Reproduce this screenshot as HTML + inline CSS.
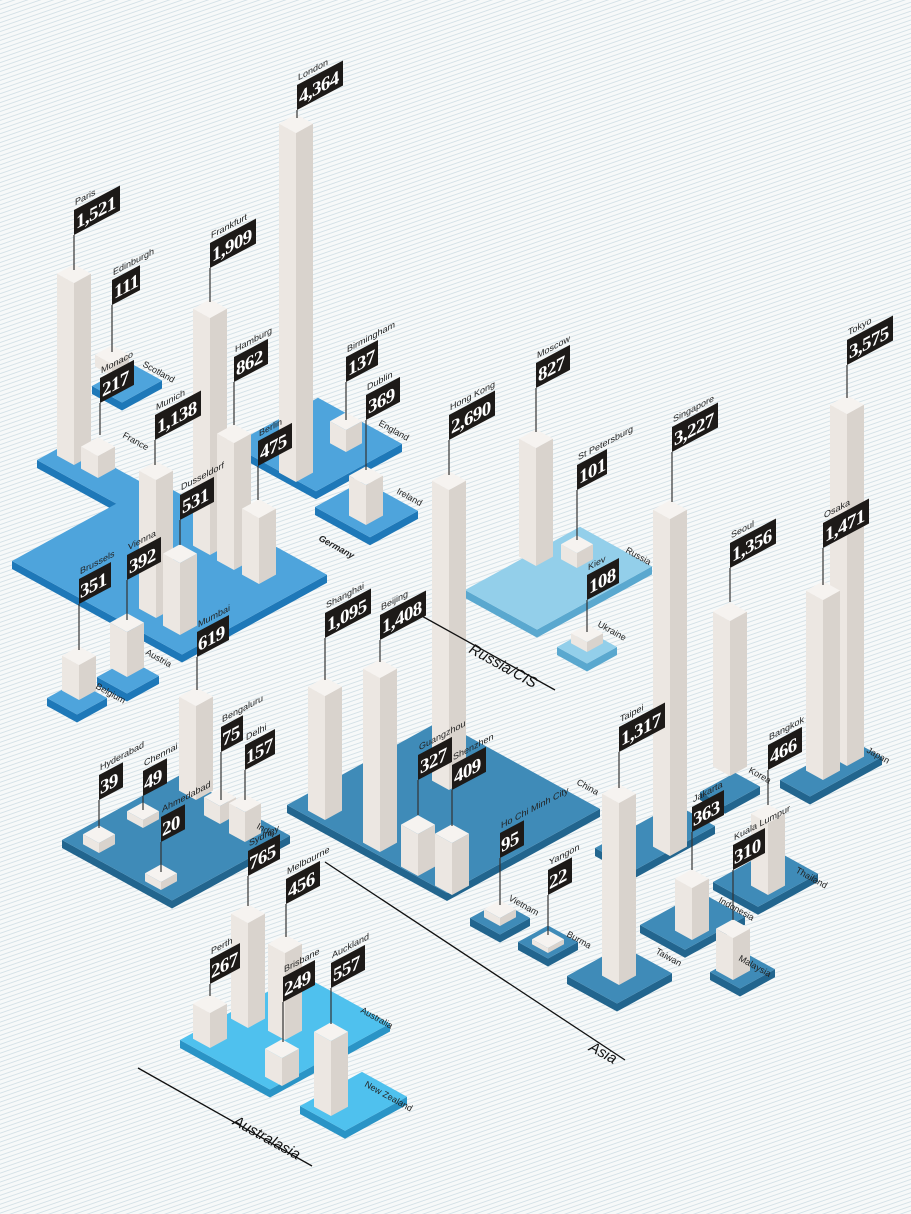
<!DOCTYPE html>
<html><head><meta charset="utf-8">
<style>
html,body{margin:0;padding:0;background:#f5f8f8;}
svg{display:block;}
.n{font-family:"Liberation Serif",serif;font-weight:bold;font-size:19px;letter-spacing:-0.6px;fill:#fff;}
.c{font-family:"Liberation Sans",sans-serif;font-size:9px;fill:#222;}
.k{font-family:"Liberation Sans",sans-serif;font-size:9px;fill:#222;}
.r{font-family:"Liberation Sans",sans-serif;font-size:15px;fill:#111;font-style:italic;}
</style></head>
<body>
<svg id="s" width="911" height="1214" viewBox="0 0 911 1214" xmlns="http://www.w3.org/2000/svg">
<defs>
<pattern id="hatch" width="12" height="4.2" patternUnits="userSpaceOnUse" patternTransform="rotate(-19)">
<rect width="12" height="4.2" fill="#f7f9f9"/>
<line x1="0" y1="0.5" x2="12" y2="0.5" stroke="#cfdee5" stroke-width="0.8"/>
</pattern>
</defs>
<rect width="911" height="1214" fill="url(#hatch)"/>
<g id="plat"></g>
<g id="bld"></g>
<g id="poles" stroke="#333" stroke-width="1.2"></g>

<g stroke="#111" stroke-width="1.3">
<line x1="420" y1="615" x2="555" y2="690"/>
<line x1="325" y1="862" x2="625" y2="1060"/>
<line x1="138" y1="1068" x2="312" y2="1166"/>
</g>
<text class="r" transform="translate(468,652) rotate(29)">Russia/CIS</text>
<text class="r" transform="translate(588,1050) rotate(29)">Asia</text>
<text class="r" transform="translate(232,1124) rotate(29)">Australasia</text>

<g class="k">
<text transform="translate(142,366) rotate(29)">Scotland</text>
<text transform="translate(122,437) rotate(29)">France</text>
<text transform="translate(378,425) rotate(29)">England</text>
<text transform="translate(396,493) rotate(29)">Ireland</text>
<text transform="translate(318,540) rotate(29)" font-weight="bold" font-style="italic">Germany</text>
<text transform="translate(145,654) rotate(29)">Austria</text>
<text transform="translate(95,688) rotate(29)">Belgium</text>
<text transform="translate(625,552) rotate(29)">Russia</text>
<text transform="translate(597,626) rotate(29)">Ukraine</text>
<text transform="translate(576,784) rotate(29)">China</text>
<text transform="translate(866,752) rotate(29)">Japan</text>
<text transform="translate(748,772) rotate(29)">Korea</text>
<text transform="translate(256,828) rotate(29)">India</text>
<text transform="translate(508,900) rotate(29)">Vietnam</text>
<text transform="translate(566,936) rotate(29)">Burma</text>
<text transform="translate(795,872) rotate(29)">Thailand</text>
<text transform="translate(718,902) rotate(29)">Indonesia</text>
<text transform="translate(738,960) rotate(29)">Malaysia</text>
<text transform="translate(655,953) rotate(29)">Taiwan</text>
<text transform="translate(360,1012) rotate(29)">Australia</text>
<text transform="translate(364,1086) rotate(29)">New Zealand</text>
</g>

<g id="flags">
<g transform="translate(297,110) skewY(-28)"><rect y="-25" width="46" height="25" fill="#1d1a18"/><text class="n" x="2" y="-5">4,364</text><text class="c" x="1" y="-29">London</text></g>
<g transform="translate(74,235) skewY(-28)"><rect y="-25" width="46" height="25" fill="#1d1a18"/><text class="n" x="2" y="-5">1,521</text><text class="c" x="1" y="-29">Paris</text></g>
<g transform="translate(112,305) skewY(-28)"><rect y="-25" width="28" height="25" fill="#1d1a18"/><text class="n" x="2" y="-5">111</text><text class="c" x="1" y="-29">Edinburgh</text></g>
<g transform="translate(210,268) skewY(-28)"><rect y="-25" width="46" height="25" fill="#1d1a18"/><text class="n" x="2" y="-5">1,909</text><text class="c" x="1" y="-29">Frankfurt</text></g>
<g transform="translate(234,382) skewY(-28)"><rect y="-25" width="34" height="25" fill="#1d1a18"/><text class="n" x="2" y="-5">862</text><text class="c" x="1" y="-29">Hamburg</text></g>
<g transform="translate(346,382) skewY(-28)"><rect y="-25" width="32" height="25" fill="#1d1a18"/><text class="n" x="2" y="-5">137</text><text class="c" x="1" y="-29">Birmingham</text></g>
<g transform="translate(100,403) skewY(-28)"><rect y="-25" width="34" height="25" fill="#1d1a18"/><text class="n" x="2" y="-5">217</text><text class="c" x="1" y="-29">Monaco</text></g>
<g transform="translate(155,440) skewY(-28)"><rect y="-25" width="46" height="25" fill="#1d1a18"/><text class="n" x="2" y="-5">1,138</text><text class="c" x="1" y="-29">Munich</text></g>
<g transform="translate(366,420) skewY(-28)"><rect y="-25" width="34" height="25" fill="#1d1a18"/><text class="n" x="2" y="-5">369</text><text class="c" x="1" y="-29">Dublin</text></g>
<g transform="translate(258,466) skewY(-28)"><rect y="-25" width="34" height="25" fill="#1d1a18"/><text class="n" x="2" y="-5">475</text><text class="c" x="1" y="-29">Berlin</text></g>
<g transform="translate(180,520) skewY(-28)"><rect y="-25" width="34" height="25" fill="#1d1a18"/><text class="n" x="2" y="-5">531</text><text class="c" x="1" y="-29">Dusseldorf</text></g>
<g transform="translate(127,580) skewY(-28)"><rect y="-25" width="34" height="25" fill="#1d1a18"/><text class="n" x="2" y="-5">392</text><text class="c" x="1" y="-29">Vienna</text></g>
<g transform="translate(79,604) skewY(-28)"><rect y="-25" width="32" height="25" fill="#1d1a18"/><text class="n" x="1" y="-5">351</text><text class="c" x="1" y="-29">Brussels</text></g>
<g transform="translate(449,440) skewY(-28)"><rect y="-25" width="46" height="25" fill="#1d1a18"/><text class="n" x="2" y="-5">2,690</text><text class="c" x="1" y="-29">Hong Kong</text></g>
<g transform="translate(536,388) skewY(-28)"><rect y="-25" width="34" height="25" fill="#1d1a18"/><text class="n" x="2" y="-5">827</text><text class="c" x="1" y="-29">Moscow</text></g>
<g transform="translate(577,490) skewY(-28)"><rect y="-25" width="30" height="25" fill="#1d1a18"/><text class="n" x="2" y="-5">101</text><text class="c" x="1" y="-29">St Petersburg</text></g>
<g transform="translate(587,600) skewY(-28)"><rect y="-25" width="32" height="25" fill="#1d1a18"/><text class="n" x="2" y="-5">108</text><text class="c" x="1" y="-29">Kiev</text></g>
<g transform="translate(672,452) skewY(-28)"><rect y="-25" width="46" height="25" fill="#1d1a18"/><text class="n" x="2" y="-5">3,227</text><text class="c" x="1" y="-29">Singapore</text></g>
<g transform="translate(730,568) skewY(-28)"><rect y="-25" width="46" height="25" fill="#1d1a18"/><text class="n" x="2" y="-5">1,356</text><text class="c" x="1" y="-29">Seoul</text></g>
<g transform="translate(847,365) skewY(-28)"><rect y="-25" width="46" height="25" fill="#1d1a18"/><text class="n" x="2" y="-5">3,575</text><text class="c" x="1" y="-29">Tokyo</text></g>
<g transform="translate(823,548) skewY(-28)"><rect y="-25" width="46" height="25" fill="#1d1a18"/><text class="n" x="2" y="-5">1,471</text><text class="c" x="1" y="-29">Osaka</text></g>
<g transform="translate(325,638) skewY(-28)"><rect y="-25" width="46" height="25" fill="#1d1a18"/><text class="n" x="2" y="-5">1,095</text><text class="c" x="1" y="-29">Shanghai</text></g>
<g transform="translate(380,640) skewY(-28)"><rect y="-25" width="46" height="25" fill="#1d1a18"/><text class="n" x="2" y="-5">1,408</text><text class="c" x="1" y="-29">Beijing</text></g>
<g transform="translate(197,657) skewY(-28)"><rect y="-25" width="32" height="25" fill="#1d1a18"/><text class="n" x="1" y="-5">619</text><text class="c" x="1" y="-29">Mumbai</text></g>
<g transform="translate(619,752) skewY(-28)"><rect y="-25" width="46" height="25" fill="#1d1a18"/><text class="n" x="2" y="-5">1,317</text><text class="c" x="1" y="-29">Taipei</text></g>
<g transform="translate(768,770) skewY(-28)"><rect y="-25" width="34" height="25" fill="#1d1a18"/><text class="n" x="2" y="-5">466</text><text class="c" x="1" y="-29">Bangkok</text></g>
<g transform="translate(418,780) skewY(-28)"><rect y="-25" width="34" height="25" fill="#1d1a18"/><text class="n" x="2" y="-5">327</text><text class="c" x="1" y="-29">Guangzhou</text></g>
<g transform="translate(452,790) skewY(-28)"><rect y="-25" width="34" height="25" fill="#1d1a18"/><text class="n" x="2" y="-5">409</text><text class="c" x="1" y="-29">Shenzhen</text></g>
<g transform="translate(99,800) skewY(-28)"><rect y="-25" width="24" height="25" fill="#1d1a18"/><text class="n" x="1" y="-5">39</text><text class="c" x="1" y="-29">Hyderabad</text></g>
<g transform="translate(143,796) skewY(-28)"><rect y="-25" width="24" height="25" fill="#1d1a18"/><text class="n" x="1" y="-5">49</text><text class="c" x="1" y="-29">Chennai</text></g>
<g transform="translate(221,752) skewY(-28)"><rect y="-25" width="22" height="25" fill="#1d1a18"/><text class="n" x="1" y="-5">75</text><text class="c" x="1" y="-29">Bengaluru</text></g>
<g transform="translate(245,770) skewY(-28)"><rect y="-25" width="30" height="25" fill="#1d1a18"/><text class="n" x="1" y="-5">157</text><text class="c" x="1" y="-29">Delhi</text></g>
<g transform="translate(161,842) skewY(-28)"><rect y="-25" width="24" height="25" fill="#1d1a18"/><text class="n" x="1" y="-5">20</text><text class="c" x="1" y="-29">Ahmedabad</text></g>
<g transform="translate(692,832) skewY(-28)"><rect y="-25" width="32" height="25" fill="#1d1a18"/><text class="n" x="1" y="-5">363</text><text class="c" x="1" y="-29">Jakarta</text></g>
<g transform="translate(733,870) skewY(-28)"><rect y="-25" width="32" height="25" fill="#1d1a18"/><text class="n" x="1" y="-5">310</text><text class="c" x="1" y="-29">Kuala Lumpur</text></g>
<g transform="translate(500,858) skewY(-28)"><rect y="-25" width="24" height="25" fill="#1d1a18"/><text class="n" x="1" y="-5">95</text><text class="c" x="1" y="-29">Ho Chi Minh City</text></g>
<g transform="translate(548,895) skewY(-28)"><rect y="-25" width="24" height="25" fill="#1d1a18"/><text class="n" x="1" y="-5">22</text><text class="c" x="1" y="-29">Yangon</text></g>
<g transform="translate(248,876) skewY(-28)"><rect y="-25" width="32" height="25" fill="#1d1a18"/><text class="n" x="1" y="-5">765</text><text class="c" x="1" y="-29">Sydney</text></g>
<g transform="translate(286,904) skewY(-28)"><rect y="-25" width="34" height="25" fill="#1d1a18"/><text class="n" x="2" y="-5">456</text><text class="c" x="1" y="-29">Melbourne</text></g>
<g transform="translate(210,984) skewY(-28)"><rect y="-25" width="30" height="25" fill="#1d1a18"/><text class="n" x="1" y="-5">267</text><text class="c" x="1" y="-29">Perth</text></g>
<g transform="translate(283,1002) skewY(-28)"><rect y="-25" width="32" height="25" fill="#1d1a18"/><text class="n" x="1" y="-5">249</text><text class="c" x="1" y="-29">Brisbane</text></g>
<g transform="translate(331,988) skewY(-28)"><rect y="-25" width="34" height="25" fill="#1d1a18"/><text class="n" x="2" y="-5">557</text><text class="c" x="1" y="-29">Auckland</text></g>
</g>

<script>
(function(){
var NS="http://www.w3.org/2000/svg",K=0.55;
function poly(g,pts,fill){var p=document.createElementNS(NS,"polygon");p.setAttribute("points",pts.map(function(q){return q[0].toFixed(1)+","+q[1].toFixed(1)}).join(" "));p.setAttribute("fill",fill);g.appendChild(p);}
var plat=document.getElementById("plat"),bld=document.getElementById("bld"),poles=document.getElementById("poles");
var E="#4ea4dc",ES="#1e78b8",R="#93cfea",RS="#5aa8cf",A="#3f8bb8",AS="#22658e",Z="#4fc1ee",ZS="#2a94c6";
var P=[
[92,386,30,40,E,ES],[37,460,80,32,E,ES],[232,445,84,86,E,ES],[315,507,55,48,E,ES],
[12,561,170,145,E,ES],[47,698,30,30,E,ES],[97,677,30,32,E,ES],
[465,590,72,115,R,RS],[557,647,30,30,R,RS],
[62,840,110,118,A,AS],[287,805,160,153,A,AS],[780,780,30,72,A,AS],[700,792,25,35,A,AS],
[595,848,40,80,A,AS],[567,976,50,55,A,AS],[470,918,30,30,A,AS],[518,942,30,30,A,AS],
[640,925,45,60,A,AS],[713,882,45,60,A,AS],[710,972,30,35,A,AS],
[180,1040,90,120,Z,ZS],[300,1106,45,62,Z,ZS]
];
P.sort(function(a,b){return (a[1]+a[2]*K)-(b[1]+b[2]*K)});
P.forEach(function(o){var lx=o[0],ly=o[1],p=o[2],q=o[3],t=8;
var L=[lx,ly],B=[lx+p,ly+p*K],Rr=[lx+p+q,ly+p*K-q*K],T=[lx+q,ly-q*K];
poly(plat,[L,B,[B[0],B[1]+t],[L[0],L[1]+t]],o[5]);
poly(plat,[B,Rr,[Rr[0],Rr[1]+t],[B[0],B[1]+t]],o[5]);
poly(plat,[L,B,Rr,T],o[4]);});
var Bs=[
[296,482,17,349],[74,465,17,182],[98,478,17,22],[112,376,17,12],[346,452,16,22],[366,525,17,40],
[156,618,17,138],[180,635,17,72],[210,555,17,237],[234,570,17,127],[259,584,17,66],[127,677,17,45],[79,700,17,35],
[449,790,17,300],[536,566,17,118],[577,568,16,15],[587,652,16,10],
[670,856,17,337],[730,776,17,155],[823,780,17,180],[847,766,17,352],[768,895,17,72],[619,985,17,182],[692,940,17,52],[733,980,17,42],
[325,820,17,124],[380,852,17,174],[418,876,17,42],[452,895,17,52],[500,926,16,8],[548,953,16,5],
[196,800,17,94],[143,828,16,8],[99,853,16,10],[161,890,16,8],[220,824,16,18],[245,842,16,30],
[248,1028,17,105],[285,1040,17,87],[210,1048,17,35],[282,1086,17,28],[331,1116,17,75]
];
Bs.sort(function(a,b){return a[1]-b[1]});
Bs.forEach(function(o){var x=o[0],y=o[1],a=o[2],h=o[3],d=a*K;
poly(bld,[[x,y],[x-a,y-d],[x-a,y-d-h],[x,y-h]],"#ece7e2");
poly(bld,[[x,y],[x+a,y-d],[x+a,y-d-h],[x,y-h]],"#d9d3cd");
poly(bld,[[x,y-h],[x-a,y-d-h],[x,y-2*d-h],[x+a,y-d-h]],"#f6f3f0");});
var L=[[297,110,118],[74,235,270],[112,305,352],[210,268,302],[234,382,425],[346,382,420],[100,403,435],[155,440,465],[366,420,470],
[258,466,500],[180,520,545],[127,580,620],[79,604,650],[449,440,475],[536,388,432],[577,490,540],[587,600,632],[672,452,502],[730,568,602],
[847,365,398],[823,548,585],[325,638,680],[380,640,662],[197,657,690],[619,752,788],[768,770,805],[418,780,815],[452,790,826],
[99,800,828],[143,796,810],[221,752,800],[245,770,800],[161,842,872],[692,832,870],[733,870,920],[500,858,905],[548,895,935],
[248,876,906],[286,904,937],[210,984,996],[283,1002,1042],[331,988,1024]];
L.forEach(function(o){var l=document.createElementNS(NS,"line");l.setAttribute("x1",o[0]);l.setAttribute("x2",o[0]);l.setAttribute("y1",o[1]);l.setAttribute("y2",o[2]);poles.appendChild(l);});
})();
</script>
</svg>
</body></html>
